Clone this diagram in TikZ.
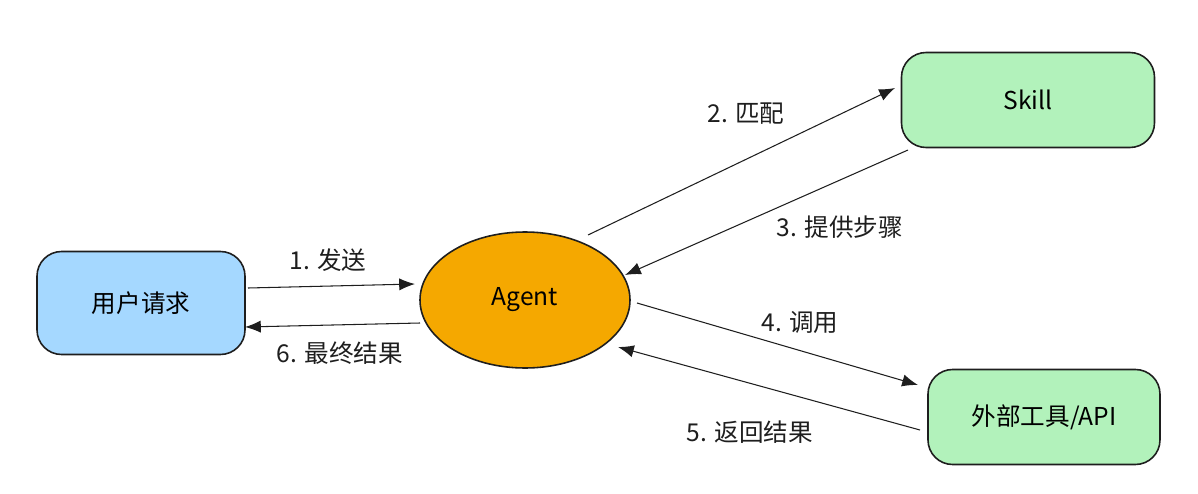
\documentclass[tikz,border=0pt]{standalone}
\usepackage{fontspec}
\setmainfont{Noto Sans CJK SC}
\usetikzlibrary{shapes.geometric,arrows.meta}
\definecolor{bluef}{HTML}{A5D8FF}
\definecolor{greenf}{HTML}{B2F2BB}
\definecolor{orangef}{HTML}{F5A800}
\definecolor{ink}{HTML}{1E1E1E}
\begin{document}
\begin{tikzpicture}[x=0.02cm,y=-0.02cm,
  box/.style={draw=ink,line width=0.9pt,rounded corners=14pt,font=\fontsize{14}{16}\selectfont},
  lab/.style={font=\fontsize{14}{16}\selectfont,text=ink},
  arr/.style={draw=ink,line width=0.6pt,-{Latex[length=9pt,width=7pt]}}]
\useasboundingbox (0,0) rectangle (1198,494);
\node[box,fill=bluef,minimum width=208*0.02cm,minimum height=103*0.02cm] (req) at (141,303) {用户请求};
\node[draw=ink,line width=0.9pt,ellipse,fill=orangef,minimum width=210*0.02cm,minimum height=136*0.02cm,font=\fontsize{14}{16}\selectfont\itshape] (ag) at (525,300) {Agent};
\node[box,fill=greenf,minimum width=253*0.02cm,minimum height=95*0.02cm] (sk) at (1028,100) {Skill};
\node[box,fill=greenf,minimum width=232*0.02cm,minimum height=95*0.02cm] (api) at (1044,417) {外部工具/API};
\coordinate (a1) at (248,288); \coordinate (b1) at (415,284);
\coordinate (a6) at (420,323); \coordinate (b6) at (245,327);
\coordinate (a2) at (588,235); \coordinate (b2) at (895,88);
\coordinate (a3) at (908,150); \coordinate (b3) at (625,275);
\coordinate (a4) at (637,303); \coordinate (b4) at (918,385);
\coordinate (a5) at (920,430); \coordinate (b5) at (618,347);
\draw[arr] (a1) -- (b1);
\draw[arr] (a6) -- (b6);
\draw[arr] (a2) -- (b2);
\draw[arr] (a3) -- (b3);
\draw[arr] (a4) -- (b4);
\draw[arr] (a5) -- (b5);
\node[lab] (l1) at (328,260) {1. 发送};
\node[lab] (l6) at (340,353) {6. 最终结果};
\node[lab] (l2) at (746,114) {2. 匹配};
\node[lab] (l3) at (840,227) {3. 提供步骤};
\node[lab] (l4) at (800,322) {4. 调用};
\node[lab] (l5) at (750,432) {5. 返回结果};
\end{tikzpicture}
\end{document}
